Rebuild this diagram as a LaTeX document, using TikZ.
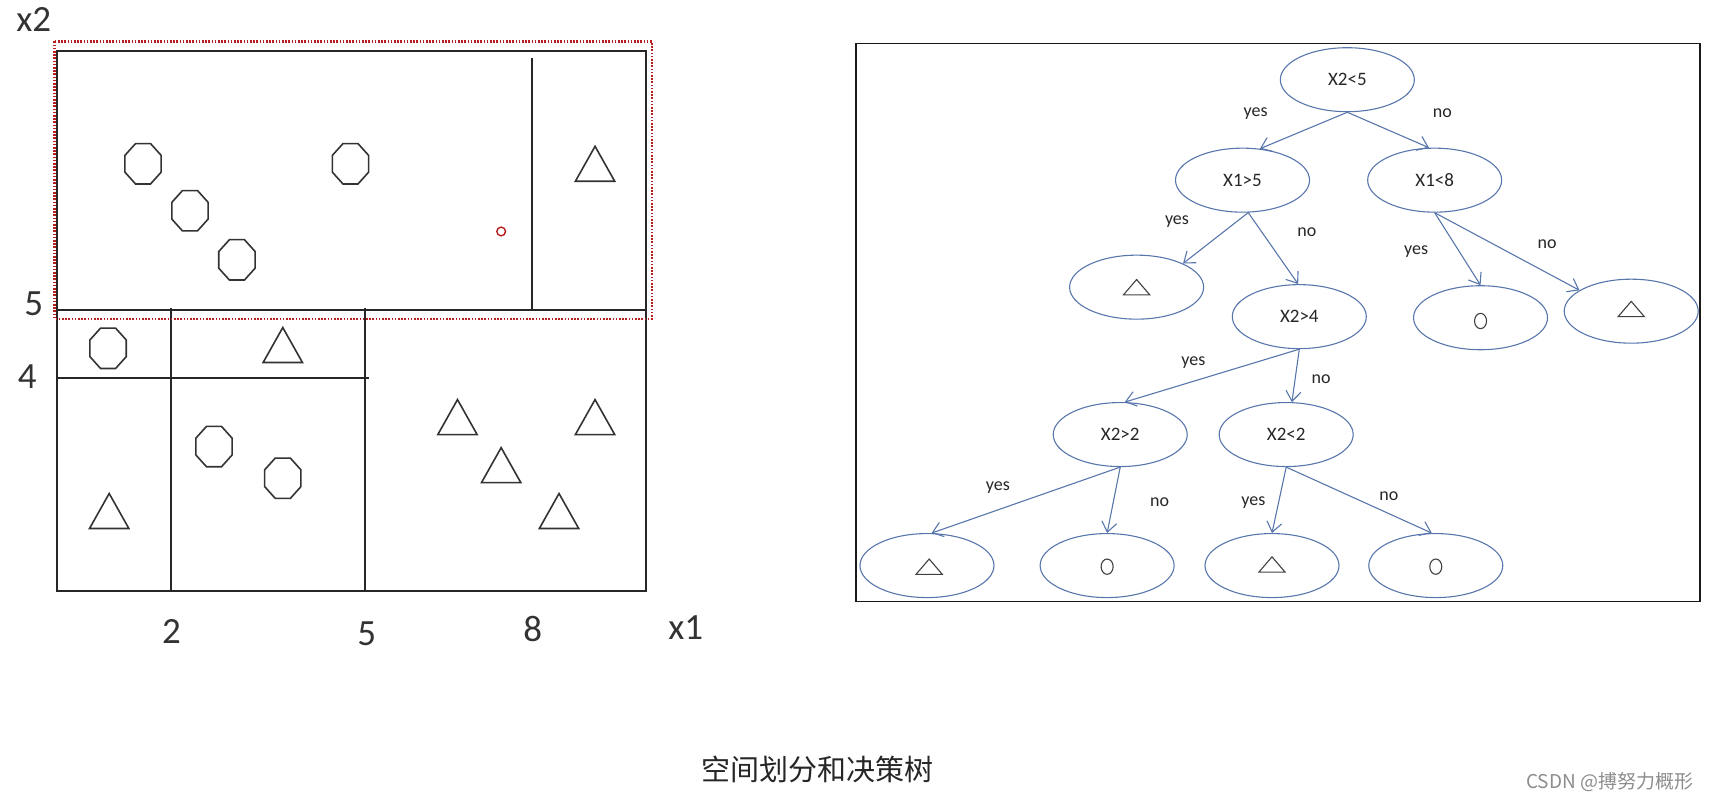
\documentclass[tikz,border=0pt]{standalone}
\usepackage{fontspec}
\setmainfont{Carlito}
\newfontfamily\cjk{Noto Sans CJK SC}
\usetikzlibrary{shapes.geometric,arrows.meta}
\definecolor{tb}{RGB}{88,118,172}
\definecolor{rd}{RGB}{185,30,30}
\begin{document}
\begin{tikzpicture}[x=1.0918pt,y=-1.0918pt,
  plotline/.style={line width=1.9pt, draw=black!85},
  shp/.style={line width=1.6pt, draw=black!80},
  tnode/.style={ellipse, draw=tb, line width=1.1pt, minimum width=134pt, minimum height=64pt, inner sep=0pt, text=black!85, font=\fontsize{19}{19}\selectfont},
  arr/.style={draw=tb, line width=1.1pt, -{Straight Barb[length=10pt,width=15pt]}},
  lbl/.style={font=\fontsize{18}{18}\selectfont, text=black!85},
  axl/.style={font=\fontsize{37}{37}\selectfont, text=black!80},
  oct/.pic={\draw[shp] (22.5:18 and 20) -- (67.5:18 and 20) -- (112.5:18 and 20) -- (157.5:18 and 20) -- (202.5:18 and 20) -- (247.5:18 and 20) -- (292.5:18 and 20) -- (337.5:18 and 20) -- cycle;},
  tri/.pic={\draw[shp] (-18,15) -- (18,15) -- (0,-17) -- cycle;},
  ltri/.pic={\draw[line width=1.1pt, draw=black!75] (-12,7) -- (12,7) -- (0,-7) -- cycle;},
  lcirc/.pic={\draw[line width=1.1pt, draw=black!75] (0,0) ellipse [x radius=5.5, y radius=7];}
]
\useasboundingbox (0,0) rectangle (1568,733);

% ---------- left: space partition ----------
\coordinate (tl) at (52,47);
\coordinate (br) at (592,541);
\draw[plotline] (tl) rectangle (br);
\coordinate (h5l) at (52,284);  \coordinate (h5r) at (592,284);
\draw[plotline] (h5l) -- (h5r);
\coordinate (v8t) at (487,53);  \coordinate (v8b) at (487,284);
\draw[plotline] (v8t) -- (v8b);
\coordinate (v2t) at (157,282); \coordinate (v2b) at (157,541);
\draw[plotline] (v2t) -- (v2b);
\coordinate (v5t) at (334,282); \coordinate (v5b) at (334,541);
\draw[plotline] (v5t) -- (v5b);
\coordinate (h4l) at (52,346);  \coordinate (h4r) at (338,346);
\draw[plotline] (h4l) -- (h4r);

\coordinate (rtl) at (50,38); \coordinate (rbr) at (597,292);
\draw[rd, line width=2.2pt, dash pattern=on 1.6pt off 1.6pt] (rtl) rectangle (rbr);
\draw[rd, line width=1.4pt] (459,212) circle [radius=4];

\node[axl] (lx2) at (31,18) {x2};
\node[axl] (l5) at (31,278) {5};
\node[axl] (l4) at (25,345) {4};
\node[axl] (lx1a) at (157,578) {2};
\node[axl] (lx1b) at (336,580) {5};
\node[axl] (lx1c) at (488,576) {8};
\node[axl] (lx1) at (628,575) {x1};

\pic at (131,150) {oct};
\pic at (174,193) {oct};
\pic at (217,238) {oct};
\pic at (321,150) {oct};
\pic at (99,319) {oct};
\pic at (196,409) {oct};
\pic at (259,438) {oct};

\pic at (545,151) {tri};
\pic at (259,317) {tri};
\pic at (100,469) {tri};
\pic at (419,383) {tri};
\pic at (545,383) {tri};
\pic at (459,427) {tri};
\pic at (512,469) {tri};

% ---------- right: decision tree ----------
\draw[line width=1.3pt, black!90] (784,40) rectangle (1557,551);

\node[tnode] (root) at (1234,73) {X2<5};
\node[tnode] (a) at (1138,165) {X1>5};
\node[tnode] (b) at (1314,165) {X1<8};
\node[tnode] (la) at (1041,263) {};
\pic at (1041,263) {ltri};
\node[tnode] (c) at (1190,290) {X2>4};
\node[tnode] (lb1) at (1356,291) {};
\pic at (1356,294) {lcirc};
\node[tnode] (lb2) at (1494,285) {};
\pic at (1494,283) {ltri};
\node[tnode] (d) at (1026,398) {X2>2};
\node[tnode] (e) at (1178,398) {X2<2};
\node[tnode] (l1) at (849,518) {};
\pic at (851,519) {ltri};
\node[tnode] (l2) at (1014,518) {};
\pic at (1014,519) {lcirc};
\node[tnode] (l3) at (1165,518) {};
\pic at (1165,517) {ltri};
\node[tnode] (l4) at (1315,518) {};
\pic at (1315,519) {lcirc};

\draw[arr] (root.south) -- (a.61);
\draw[arr] (root.south) -- (b.100);
\draw[arr] (a.-80) -- (la.27);
\draw[arr] (a.-80) -- (c.92);
\draw[arr] (b.south) -- (lb1.north);
\draw[arr] (b.south) -- (lb2.158);
\draw[arr] (c.south) -- (d.82);
\draw[arr] (c.south) -- (e.80);
\draw[arr] (d.south) -- (l1.82);
\draw[arr] (d.south) -- (l2.north);
\draw[arr] (e.south) -- (l3.north);
\draw[arr] (e.south) -- (l4.97);

\node[lbl] (y1) at (1150,104) {yes};
\node[lbl] (n1) at (1321,104) {no};
\node[lbl] (y2) at (1078,203) {yes};
\node[lbl] (n2) at (1197,213) {no};
\node[lbl] (y3) at (1297,230) {yes};
\node[lbl] (n3) at (1417,224) {no};
\node[lbl] (y4) at (1093,332) {yes};
\node[lbl] (n4) at (1210,347) {no};
\node[lbl] (y5) at (914,447) {yes};
\node[lbl] (n5) at (1062,460) {no};
\node[lbl] (y6) at (1148,460) {yes};
\node[lbl] (n6) at (1272,454) {no};

% ---------- captions ----------
\node[font=\cjk\fontsize{29}{29}\selectfont, text=black!85] (cap) at (749,705) {空间划分和决策树};
\node[anchor=east, font=\cjk\fontsize{19}{19}\selectfont, text=black!45] (wm) at (1554,716) {CSDN @搏努力概形};
\end{tikzpicture}
\end{document}
